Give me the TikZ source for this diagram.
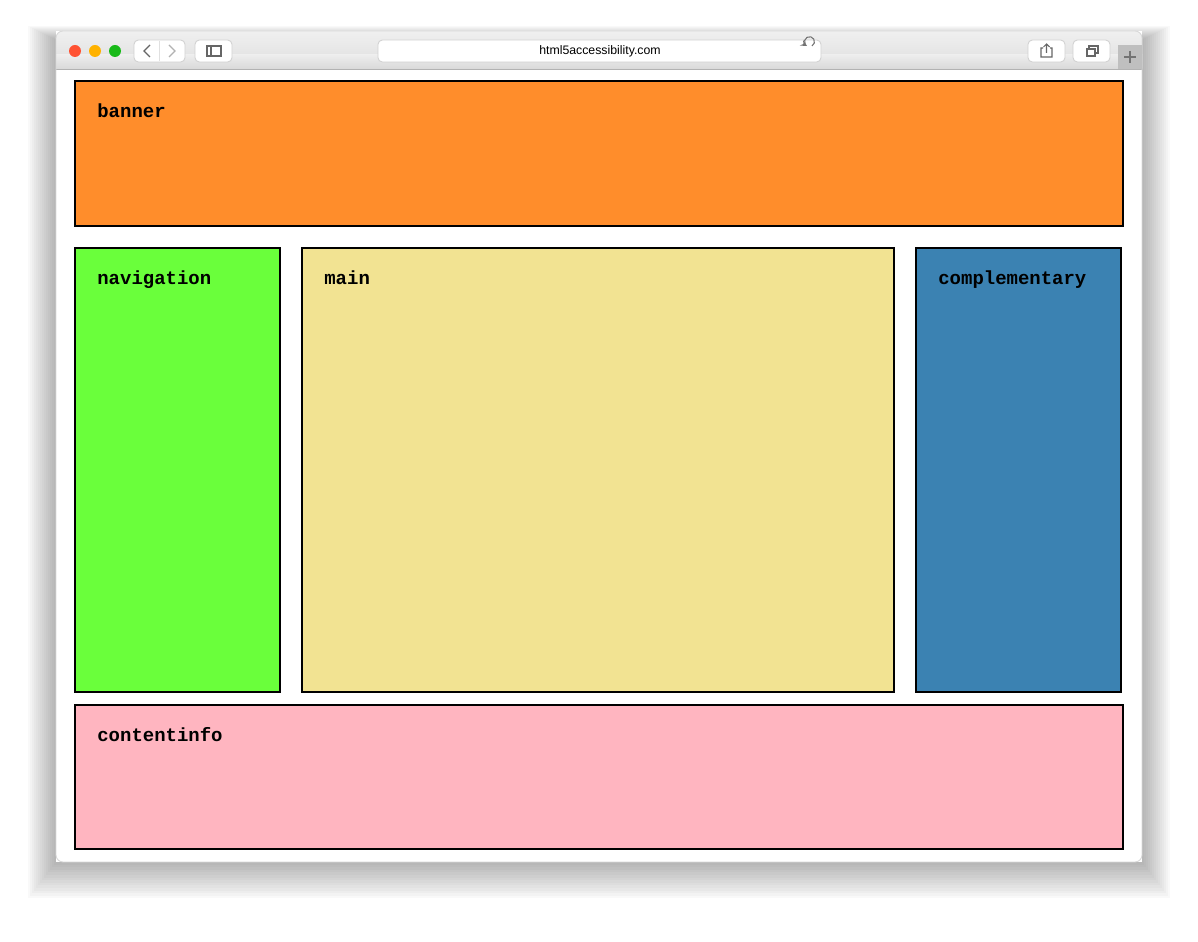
\documentclass[tikz,border=0pt]{standalone}
\usepackage{fontspec}
\setmainfont{Liberation Sans}
\newfontfamily\monob{Liberation Mono}
\begin{document}
\begin{tikzpicture}[x=0.02cm,y=-0.02cm,
  region/.style={draw=black,line width=1.1pt},
  lbl/.style={anchor=base west,inner sep=0pt,font=\monob\bfseries\fontsize{10.8}{12}\selectfont},
  tbtn/.style={draw=black!18,fill=white,rounded corners=2.5pt,line width=0.5pt}]
\useasboundingbox (0,0) rectangle (1198,942);
% shadow
\foreach \i in {1,...,14}{
  \fill[black,opacity=0.025] (56-2*\i,40-\i) rectangle (1142+2*\i,862+2.6*\i);
}
% window
\fill[white] (56,31) rectangle (1142,862);
\shade[top color=black!6,bottom color=black!14,rounded corners=4pt] (56,31) rectangle (1142,75);
\fill[black!12] (56,62) rectangle (1142,69);
\shade[top color=black!7,bottom color=black!15] (56,55) rectangle (1142,69);
\fill[white] (56,69) rectangle (1142,862);
\draw[black!30,line width=0.5pt] (56,69) -- (1142,69);
\draw[black!15,line width=0.5pt,rounded corners=4pt] (56,862) -- (56,31) -- (1142,31) -- (1142,862) -- cycle;
% traffic lights
\fill[red!70!orange!80!white] (75,51) circle (6);
\fill[orange!60!yellow] (95,51) circle (6);
\fill[green!70!black!90] (115,51) circle (6);
% buttons
\draw[tbtn] (134,40) rectangle (185,62);
\draw[black!12] (159.5,41) -- (159.5,61);
\draw[black!60,line width=0.7pt] (150,45) -- (144,51) -- (150,57);
\draw[black!30,line width=0.7pt] (169,45) -- (175,51) -- (169,57);
\draw[tbtn] (195,40) rectangle (232,62);
\draw[black!60,line width=0.6pt] (207,46) rectangle (221,56) (211,46) -- (211,56);
\node[tbtn,minimum width=443*0.02cm,minimum height=22*0.02cm,inner sep=0pt] (url) at (599.5,51) {};
\node[font=\fontsize{7}{8}\selectfont,inner sep=0pt] (urltext) at (600,51) {html5accessibility.com};
\draw[black!55,line width=0.6pt,->,>=stealth] (812,46) arc (60:-240:5);
\draw[tbtn] (1028,40) rectangle (1065,62);
\draw[black!60,line width=0.6pt] (1043,48) -- (1041,48) -- (1041,57) -- (1052,57) -- (1052,48) -- (1050,48)
  (1046.5,53) -- (1046.5,44) (1043.5,47) -- (1046.5,44) -- (1049.5,47);
\draw[tbtn] (1073,40) rectangle (1110,62);
\draw[black!60,line width=0.6pt] (1087,49) rectangle (1095,56) (1089,49) -- (1089,46) -- (1098,46) -- (1098,53) -- (1095,53);
\fill[black!25] (1118,45) rectangle (1142,69);
\draw[black!55,line width=0.6pt] (1130,51) -- (1130,63) (1124,57) -- (1136,57);
% regions
\draw[region,fill={rgb,255:red,255;green,141;blue,43}] (75,81) rectangle (1123,226);
\node[lbl] (banner) at (97,118) {banner};
\draw[region,fill={rgb,255:red,106;green,255;blue,59}] (75,248) rectangle (280,692);
\node[lbl] (nav) at (97,285) {navigation};
\draw[region,fill={rgb,255:red,242;green,227;blue,146}] (302,248) rectangle (894,692);
\node[lbl] (main) at (324,285) {main};
\draw[region,fill={rgb,255:red,59;green,130;blue,178}] (916,248) rectangle (1121,692);
\node[lbl] (comp) at (938,285) {complementary};
\draw[region,fill={rgb,255:red,255;green,181;blue,192}] (75,705) rectangle (1123,849);
\node[lbl] (ci) at (97,742) {contentinfo};
\end{tikzpicture}
\end{document}
